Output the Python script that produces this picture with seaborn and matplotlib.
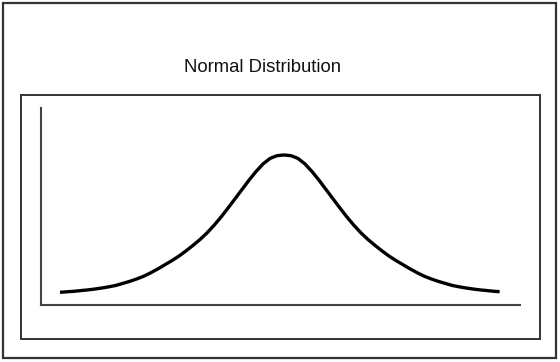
import matplotlib
matplotlib.use("Agg")
import matplotlib.pyplot as plt
from matplotlib.patches import Rectangle
import seaborn as sns
import pandas as pd

# Values (deviation from centre, relative density)
x_values = [-4.0, -3.75, -3.5, -3.375, -3.25, -3.125, -3.0, -2.875, -2.75, -2.625,
            -2.5, -2.375, -2.25, -2.125, -2.0, -1.875, -1.75, -1.625, -1.5, -1.375,
            -1.25, -1.125, -1.0, -0.875, -0.75, -0.625, -0.5, -0.375, -0.25, -0.125,
            0.0,
            0.125, 0.25, 0.375, 0.5, 0.625, 0.75, 0.875, 1.0, 1.125, 1.25,
            1.375, 1.5, 1.625, 1.75, 1.875, 2.0, 2.125, 2.25, 2.375, 2.5,
            2.625, 2.75, 2.875, 3.0, 3.125, 3.25, 3.375, 3.5, 3.75, 3.85]
density = [0.002, 0.005, 0.009, 0.0115, 0.0145, 0.018, 0.022, 0.028, 0.034, 0.041,
           0.049, 0.059, 0.070, 0.082, 0.094, 0.107, 0.122, 0.138, 0.155, 0.174,
           0.196, 0.220, 0.246, 0.273, 0.300, 0.327, 0.352, 0.374, 0.390, 0.398,
           0.400,
           0.398, 0.390, 0.374, 0.352, 0.327, 0.300, 0.273, 0.246, 0.220, 0.196,
           0.174, 0.155, 0.138, 0.122, 0.107, 0.094, 0.082, 0.070, 0.059, 0.049,
           0.041, 0.034, 0.028, 0.022, 0.018, 0.0145, 0.0115, 0.009, 0.005, 0.0038]
title_text = "Normal Distribution"

df = pd.DataFrame({"x": x_values, "density": density})

sns.set_style("white")
plt.rcParams["font.family"] = ["Liberation Sans", "DejaVu Sans"]

W, H = 560, 362
fig = plt.figure(figsize=(W / 100, H / 100), dpi=100)

def px_rect(x0, y0, x1, y1, lw):
    return Rectangle((x0 / W, 1 - y1 / H), (x1 - x0) / W, (y1 - y0) / H,
                     transform=fig.transFigure, fill=False, edgecolor="#333333",
                     linewidth=lw, zorder=0)

fig.patches.append(px_rect(3, 3, 556, 358, 1.6))
fig.patches.append(px_rect(21, 95, 540, 339, 1.4))

fig.text(262 / W, 1 - 67 / H, title_text, ha="center", va="center",
         fontsize=13.3, color="#111111")

ax = fig.add_axes([41 / W, 1 - 305 / H, (520 - 41) / W, (305 - 108) / H])
ax.patch.set_alpha(0)
sns.lineplot(data=df, x="x", y="density", ax=ax, color="black", linewidth=2.4,
             sort=True, estimator=None, solid_joinstyle="round",
             solid_capstyle="butt")
ax.set_xlim(-4.339, 4.214)
ax.set_ylim(-0.0348, 0.5362)
ax.set_xticks([])
ax.set_yticks([])
ax.set_xlabel("")
ax.set_ylabel("")
for s in ["top", "right"]:
    ax.spines[s].set_visible(False)
for s in ["left", "bottom"]:
    ax.spines[s].set_color("#444444")
    ax.spines[s].set_linewidth(1.5)

fig.savefig("out.png", dpi=100)
